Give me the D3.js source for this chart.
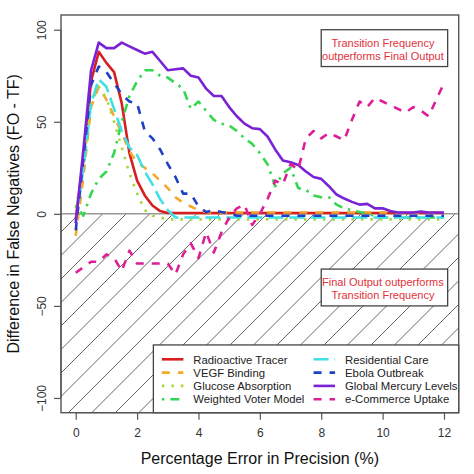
<!DOCTYPE html>
<html><head><meta charset="utf-8">
<script src="https://cdn.jsdelivr.net/npm/d3@7"></script>
<style>body{margin:0;background:#fff}svg{display:block}text{font-family:"Liberation Sans",Arial,sans-serif}</style>
</head><body>
<svg id="c" width="474" height="474"></svg>
<script>
// ---- data ----
const xValues = [0,0.25,0.5,0.75,1,1.25,1.5,1.75,2,2.25,2.5,2.75,3,3.25,3.5,3.75,4,4.25,4.5,4.75,5,5.25,5.5,5.75,6,6.25,6.5,6.75,7,7.25,7.5,7.75,8,8.25,8.5,8.75,9,9.25,9.5,9.75,10,10.25,10.5,10.75,11,11.25,11.5,11.75,12];
const radioactive = [-3,30,72,88,82,77,60,33,18,10,4.5,1.5,0.5, 0.5,0.5,0.5,0.5,0.5,0.5,0.5,0.5,0.5,0.5,0.5,0.5,0.5,0.5,0.5,0.5,0.5,0.5,0.5,0.5,0.5,0.5,0.5,0.5,0.5,0.5,0.5,0.5,0.5,0.5,0.5,0.5,0.5,0.5,0.5,0.5];
const vegf = [-12,20,58,69,62,53,44,34,28,25,22,18,14,9,6,4,2,1, 0.7,0.7,0.7,0.7,0.7,0.7,0.7,0.7,0.7,0.7,0.7,0.7,0.7,0.7,0.7,0.7,0.7,0.7,0.7,0.7,0.7,0.7,0.7,0.7,0.7,0.7,0.7,0.7,0.7,0.7,0.7];
const glucose = [3,25,60,69,63,50,36,22,11,2,-1,-2, -3,-3,-3,-3,-3,-3,-3,-3,-3,-3,-3,-3,-3,-3,-3,-3,-3,-3,-3,-3,-3,-3,-3,-3,-3,-3,-3,-3,-3,-3,-3,-3,-3,-3,-3,-3,-3];
const voter = [5,-1,11,19,23,33,50,64,72,78,78,75,74,71,68,57,61,56,51,49,48,45,41,38,33,27,15,22,25,14,13,10,9,9,5,3,2,1,0,-1, -2,-2,-2,-2,-2,-2,-2,-2,-2];
const residential = [-5,25,60,73,69,57,45,36,32,23,16,8,2,-2, -2,-2,-2,-2,-2,-2,-2,-2,-2,-2,-2,-2,-2,-2,-2,-2,-2,-2,-2,-2,-2,-2,-2,-2,-2,-2,-2,-2,-2,-2,-2,-2,-2,-2,-2];
const ebola = [-9,30,70,80,77,71,65,61,60,45,41,35,27,20,11,11,4,1,2,1,0.3, -1,-1,-1,-1,-1,-1,-1,-1,-1,-1,-1,-1,-1,-1,-1,-1,-1,-1,-1,-1,-1,-1,-1,-1,-1,-1,-1,-1];
const mercury = [-5,35,78,93,90,90,93,91,89,87,88,83,78,78.5,79,75,74,68,64,64,58,53,49,46.5,46,42,35,29,28,26.5,23,20,19,15,10.5,8.3,6.5,5,5.4,3,3,1.5,0.7,0.7,0.7,1.2,0.7,0.7,0.7];
const ecommerce = [-32,-29,-26,-26,-22,-24,-31,-20,-27,-27,-27,-27,-27,-33,-22,-16,-24,-10,-21,-10,-2,3,5,-6,0,8,18,16,27,24,41,45,41,44,42,40,51,61,58,63,61,59,57,55,58,56,53,62,71];
const seriesNames = ["Radioactive Tracer","VEGF Binding","Glucose Absorption","Weighted Voter Model","Residential Care","Ebola Outbreak","Global Mercury Levels","e-Commerce Uptake"];
const xTicks = [0,2,4,6,8,10,12];
const yTicks = [-100,-50,0,50,100];
const noteTop = ["Transition Frequency","outperforms Final Output"];
const noteBottom = ["Final Output outperforms","Transition Frequency"];

// ---- styles ----
const seriesValues = [radioactive,vegf,glucose,voter,residential,ebola,mercury,ecommerce];
const colors = ["#d81e1e","#f2a92e","#a4d83a","#35d650","#3fe0e6","#1f40c4","#7a22d6","#dc1f96"];
const dashes = [null,"8,8","2.5,7","2.5,6,9,6","15,6","8,8",null,"8,8"];

const svg = d3.select("#c");
const L=61, R=458.7, T=15, B=412.7;
const x = d3.scaleLinear().domain([-0.48,12.48]).range([L,R]);
const y = d3.scaleLinear().domain([-108,108]).range([B,T]);

// hatch below zero
svg.append("clipPath").attr("id","hc").append("rect")
  .attr("x",L).attr("y",y(0)).attr("width",R-L).attr("height",B-y(0));
const hg = svg.append("g").attr("clip-path","url(#hc)");
const phase = 481, step = 23.5;
for (let c = phase - step*Math.ceil((phase-(L+y(0)))/step); c <= R+B+step; c += step) {
  hg.append("line").attr("x1",c-B).attr("y1",B).attr("x2",c-y(0)).attr("y2",y(0))
    .attr("stroke","#555").attr("stroke-width",0.9);
}
// zero line
svg.append("line").attr("x1",L).attr("x2",R).attr("y1",y(0)).attr("y2",y(0))
  .attr("stroke","#999").attr("stroke-width",1.5);

// lines
const line = d3.line().x((d,i)=>x(xValues[i])).y(d=>y(d));
const pg = svg.append("g").attr("clip-path","url(#pc)");
svg.append("clipPath").attr("id","pc").append("rect").attr("x",L).attr("y",T).attr("width",R-L).attr("height",B-T);
seriesValues.forEach((vals,k)=>{
  pg.append("path").attr("d",line(vals)).attr("fill","none")
    .attr("stroke",colors[k]).attr("stroke-width",2.6)
    .attr("stroke-linejoin","round")
    .attr("stroke-dasharray",dashes[k]);
});

// annotation boxes
function note(lines, x0, x1, yTop, yBot, b1) {
  svg.append("rect").attr("x",x(x0)).attr("y",y(yTop)).attr("width",x(x1)-x(x0)).attr("height",y(yBot)-y(yTop))
    .attr("fill","#fff").attr("stroke","#444").attr("stroke-width",1.3);
  lines.forEach((t,i)=>{
    svg.append("text").attr("x",(x(x0)+x(x1))/2-1.5).attr("y",b1+i*13.3).attr("text-anchor","middle")
      .attr("font-size",11).attr("fill","#e0323c").text(t);
  });
}
note(noteTop, 8, 12.12, 100, 80, 46.7);
note(noteBottom, 8, 12.12, -30, -50, 286);

// legend
const lgx = x(2.53), lgy = y(-71.2);
svg.append("rect").attr("x",lgx).attr("y",lgy).attr("width",R-lgx).attr("height",B-lgy)
  .attr("fill","#fff").attr("stroke","#444").attr("stroke-width",1.3);
seriesNames.forEach((n,k)=>{
  const col = Math.floor(k/4), row = k%4;
  const sx = lgx + 8.5 + col*151.7;
  const cy = 359.3 + row*13.3;
  svg.append("line").attr("x1",sx).attr("x2",sx+21.5).attr("y1",cy).attr("y2",cy)
    .attr("stroke",colors[k]).attr("stroke-width",2.6).attr("stroke-dasharray",dashes[k]);
  svg.append("text").attr("x",sx+31.5).attr("y",cy+4.2).attr("font-size",11.3).attr("fill","#222").text(n);
});

// box
svg.append("rect").attr("x",L).attr("y",T).attr("width",R-L).attr("height",B-T)
  .attr("fill","none").attr("stroke","#555").attr("stroke-width",1.4);

// axes
const xa = svg.append("g").attr("transform",`translate(0,${B})`)
  .call(d3.axisBottom(x).tickValues(xTicks).tickSize(7).tickPadding(9).tickFormat(d3.format("d")));
const ya = svg.append("g").attr("transform",`translate(${L},0)`)
  .call(d3.axisLeft(y).tickValues(yTicks).tickSize(7).tickPadding(3).tickFormat(d3.format("d")));
[xa,ya].forEach(a=>{
  a.select(".domain").attr("stroke","#555").attr("stroke-width",1.2);
  a.selectAll(".tick line").attr("stroke","#555").attr("stroke-width",1.2);
  a.selectAll("text").attr("font-size",12).attr("fill","#333").attr("font-family","'Liberation Sans',Arial,sans-serif");
});
xa.select(".domain").attr("d",`M${x(0)},0H${x(12)}`);
ya.select(".domain").attr("d",`M0,${y(-100)}V${y(100)}`);
ya.selectAll(".tick text").attr("transform","rotate(-90)").attr("x",0).attr("y",-15).attr("dy","0").attr("text-anchor","middle");

// axis titles
svg.append("text").attr("x",(L+R)/2).attr("y",463.5).attr("text-anchor","middle")
  .attr("font-size",16).attr("fill","#111").text("Percentage Error in Precision (%)");
svg.append("text").attr("transform",`translate(18.5,${(T+B)/2}) rotate(-90)`).attr("text-anchor","middle")
  .attr("font-size",16).attr("fill","#111").text("Difference in False Negatives (FO - TF)");
</script>
</body></html>
